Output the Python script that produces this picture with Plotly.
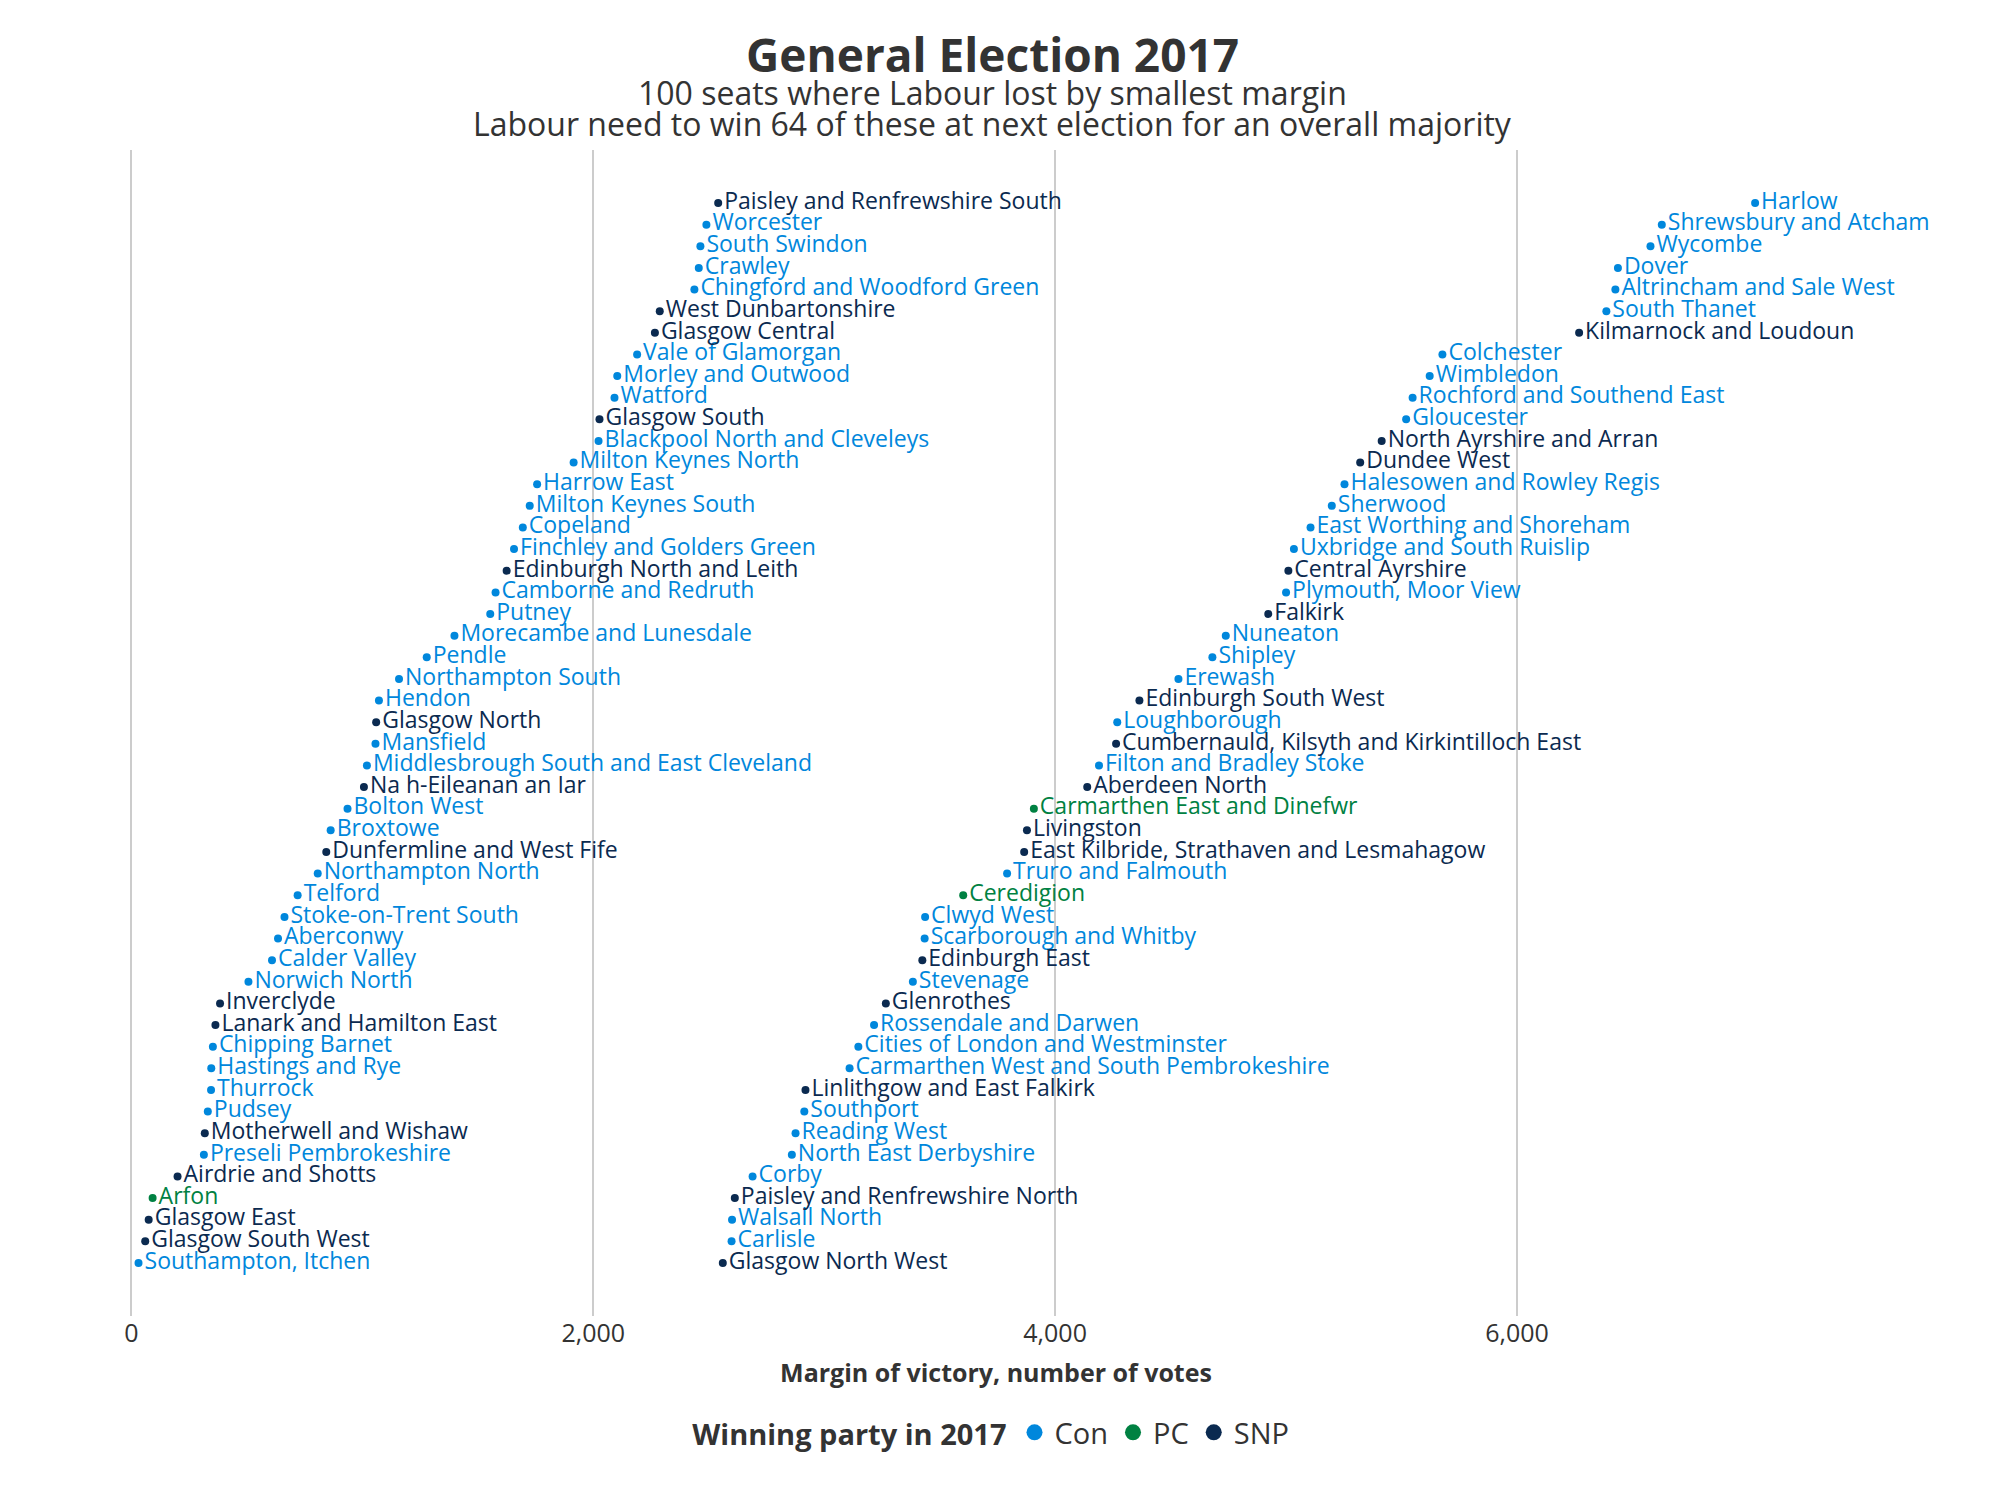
import plotly.graph_objects as go

seats = [
    "Southampton, Itchen", "Glasgow South West", "Glasgow East", "Arfon", "Airdrie and Shotts",
    "Preseli Pembrokeshire", "Motherwell and Wishaw", "Pudsey", "Thurrock", "Hastings and Rye",
    "Chipping Barnet", "Lanark and Hamilton East", "Inverclyde", "Norwich North", "Calder Valley",
    "Aberconwy", "Stoke-on-Trent South", "Telford", "Northampton North", "Dunfermline and West Fife",
    "Broxtowe", "Bolton West", "Na h-Eileanan an Iar", "Middlesbrough South and East Cleveland", "Mansfield",
    "Glasgow North", "Hendon", "Northampton South", "Pendle", "Morecambe and Lunesdale",
    "Putney", "Camborne and Redruth", "Edinburgh North and Leith", "Finchley and Golders Green", "Copeland",
    "Milton Keynes South", "Harrow East", "Milton Keynes North", "Blackpool North and Cleveleys", "Glasgow South",
    "Watford", "Morley and Outwood", "Vale of Glamorgan", "Glasgow Central", "West Dunbartonshire",
    "Chingford and Woodford Green", "Crawley", "South Swindon", "Worcester", "Paisley and Renfrewshire South",
    "Glasgow North West", "Carlisle", "Walsall North", "Paisley and Renfrewshire North", "Corby",
    "North East Derbyshire", "Reading West", "Southport", "Linlithgow and East Falkirk", "Carmarthen West and South Pembrokeshire",
    "Cities of London and Westminster", "Rossendale and Darwen", "Glenrothes", "Stevenage", "Edinburgh East",
    "Scarborough and Whitby", "Clwyd West", "Ceredigion", "Truro and Falmouth", "East Kilbride, Strathaven and Lesmahagow",
    "Livingston", "Carmarthen East and Dinefwr", "Aberdeen North", "Filton and Bradley Stoke", "Cumbernauld, Kilsyth and Kirkintilloch East",
    "Loughborough", "Edinburgh South West", "Erewash", "Shipley", "Nuneaton",
    "Falkirk", "Plymouth, Moor View", "Central Ayrshire", "Uxbridge and South Ruislip", "East Worthing and Shoreham",
    "Sherwood", "Halesowen and Rowley Regis", "Dundee West", "North Ayrshire and Arran", "Gloucester",
    "Rochford and Southend East", "Wimbledon", "Colchester", "Kilmarnock and Loudoun", "South Thanet",
    "Altrincham and Sale West", "Dover", "Wycombe", "Shrewsbury and Atcham", "Harlow",
]

margins = [
    31, 60, 75, 92, 200,
    314, 318, 331, 345, 346,
    353, 364, 384, 507, 609,
    635, 663, 720, 807, 844,
    863, 936, 1007, 1020, 1057,
    1060, 1072, 1159, 1279, 1399,
    1554, 1577, 1625, 1657, 1695,
    1725, 1757, 1915, 2023, 2027,
    2092, 2104, 2190, 2267, 2288,
    2438, 2457, 2464, 2490, 2541,
    2561, 2599, 2601, 2613, 2690,
    2860, 2876, 2914, 2919, 3110,
    3148, 3216, 3267, 3384, 3425,
    3435, 3437, 3602, 3792, 3866,
    3878, 3908, 4139, 4190, 4264,
    4269, 4365, 4534, 4681, 4739,
    4923, 5000, 5010, 5034, 5106,
    5198, 5253, 5321, 5414, 5520,
    5548, 5622, 5677, 6269, 6387,
    6426, 6437, 6578, 6627, 7031,
]

parties = [
    "Con", "SNP", "SNP", "PC", "SNP",
    "Con", "SNP", "Con", "Con", "Con",
    "Con", "SNP", "SNP", "Con", "Con",
    "Con", "Con", "Con", "Con", "SNP",
    "Con", "Con", "SNP", "Con", "Con",
    "SNP", "Con", "Con", "Con", "Con",
    "Con", "Con", "SNP", "Con", "Con",
    "Con", "Con", "Con", "Con", "SNP",
    "Con", "Con", "Con", "SNP", "SNP",
    "Con", "Con", "Con", "Con", "SNP",
    "SNP", "Con", "Con", "SNP", "Con",
    "Con", "Con", "Con", "SNP", "Con",
    "Con", "Con", "SNP", "Con", "SNP",
    "Con", "Con", "PC", "Con", "SNP",
    "SNP", "PC", "SNP", "Con", "SNP",
    "Con", "SNP", "Con", "Con", "Con",
    "SNP", "Con", "SNP", "Con", "Con",
    "Con", "Con", "SNP", "SNP", "Con",
    "Con", "Con", "Con", "SNP", "Con",
    "Con", "Con", "Con", "Con", "Con",
]

party_names = ["Con", "PC", "SNP"]
party_colors = {"Con": "#0087DC", "PC": "#008142", "SNP": "#0B2A50"}
x_ticks = [0, 2000, 4000, 6000]
x_tick_labels = ["0", "2,000", "4,000", "6,000"]

title_text = "General Election 2017"
subtitle_lines = [
    "100 seats where Labour lost by smallest margin",
    "Labour need to win 64 of these at next election for an overall majority",
]

rows_per_column = 50
positions = [(i % rows_per_column) + 1 for i in range(len(seats))]

FONT = "Open Sans"
TXT = "#333333"

fig = go.Figure()
for p in party_names:
    idx = [i for i, q in enumerate(parties) if q == p]
    fig.add_trace(go.Scatter(
        x=[margins[i] for i in idx],
        y=[positions[i] for i in idx],
        text=[seats[i] for i in idx],
        mode="markers+text",
        textposition="middle right",
        marker=dict(size=8, color=party_colors[p]),
        textfont=dict(family=FONT, size=23, color=party_colors[p]),
        name=p,
        showlegend=False,
        hovertemplate="%{text}: %{x}<extra></extra>",
    ))
for p in party_names:
    fig.add_trace(go.Scatter(
        x=[None], y=[None], mode="markers",
        marker=dict(size=30, color=party_colors[p]),
        name=p, showlegend=True,
    ))

# plot area spans pixels 150..1316 vertically
def paper_y(py):
    return (1316 - py) / 1166

annotations = [
    dict(text="<b>" + title_text + "</b>", x=0.498, y=paper_y(54), xref="paper", yref="paper",
         xanchor="center", yanchor="middle", showarrow=False,
         font=dict(family=FONT, size=46, color=TXT)),
    dict(text=subtitle_lines[0], x=0.498, y=paper_y(93), xref="paper", yref="paper",
         xanchor="center", yanchor="middle", showarrow=False,
         font=dict(family=FONT, size=32, color=TXT)),
    dict(text=subtitle_lines[1], x=0.498, y=paper_y(124), xref="paper", yref="paper",
         xanchor="center", yanchor="middle", showarrow=False,
         font=dict(family=FONT, size=32, color=TXT)),
]

fig.update_layout(
    width=2000, height=1500,
    paper_bgcolor="white", plot_bgcolor="white",
    margin=dict(l=57, r=65, t=150, b=184),
    font=dict(family=FONT, color=TXT),
    annotations=annotations,
    xaxis=dict(
        range=[-322, 7810],
        tickvals=x_ticks, ticktext=x_tick_labels,
        showgrid=True, gridcolor="#cccccc", gridwidth=1.5,
        zeroline=False, showline=False, ticks="",
        tickfont=dict(family=FONT, size=25, color=TXT),
        title=dict(text="<b>Margin of victory, number of votes</b>",
                   font=dict(family=FONT, size=25, color=TXT), standoff=16),
    ),
    yaxis=dict(
        range=[-1.45, 52.45], showgrid=False, zeroline=False,
        showticklabels=False, showline=False, ticks="",
    ),
    legend=dict(
        orientation="h", x=0.498, xanchor="center", y=-0.078, yanchor="top",
        title=dict(text="<b>Winning party in 2017</b>", font=dict(family=FONT, size=29, color=TXT)),
        font=dict(family=FONT, size=29, color=TXT),
        itemsizing="trace",
    ),
)

fig.write_html("out.html")
